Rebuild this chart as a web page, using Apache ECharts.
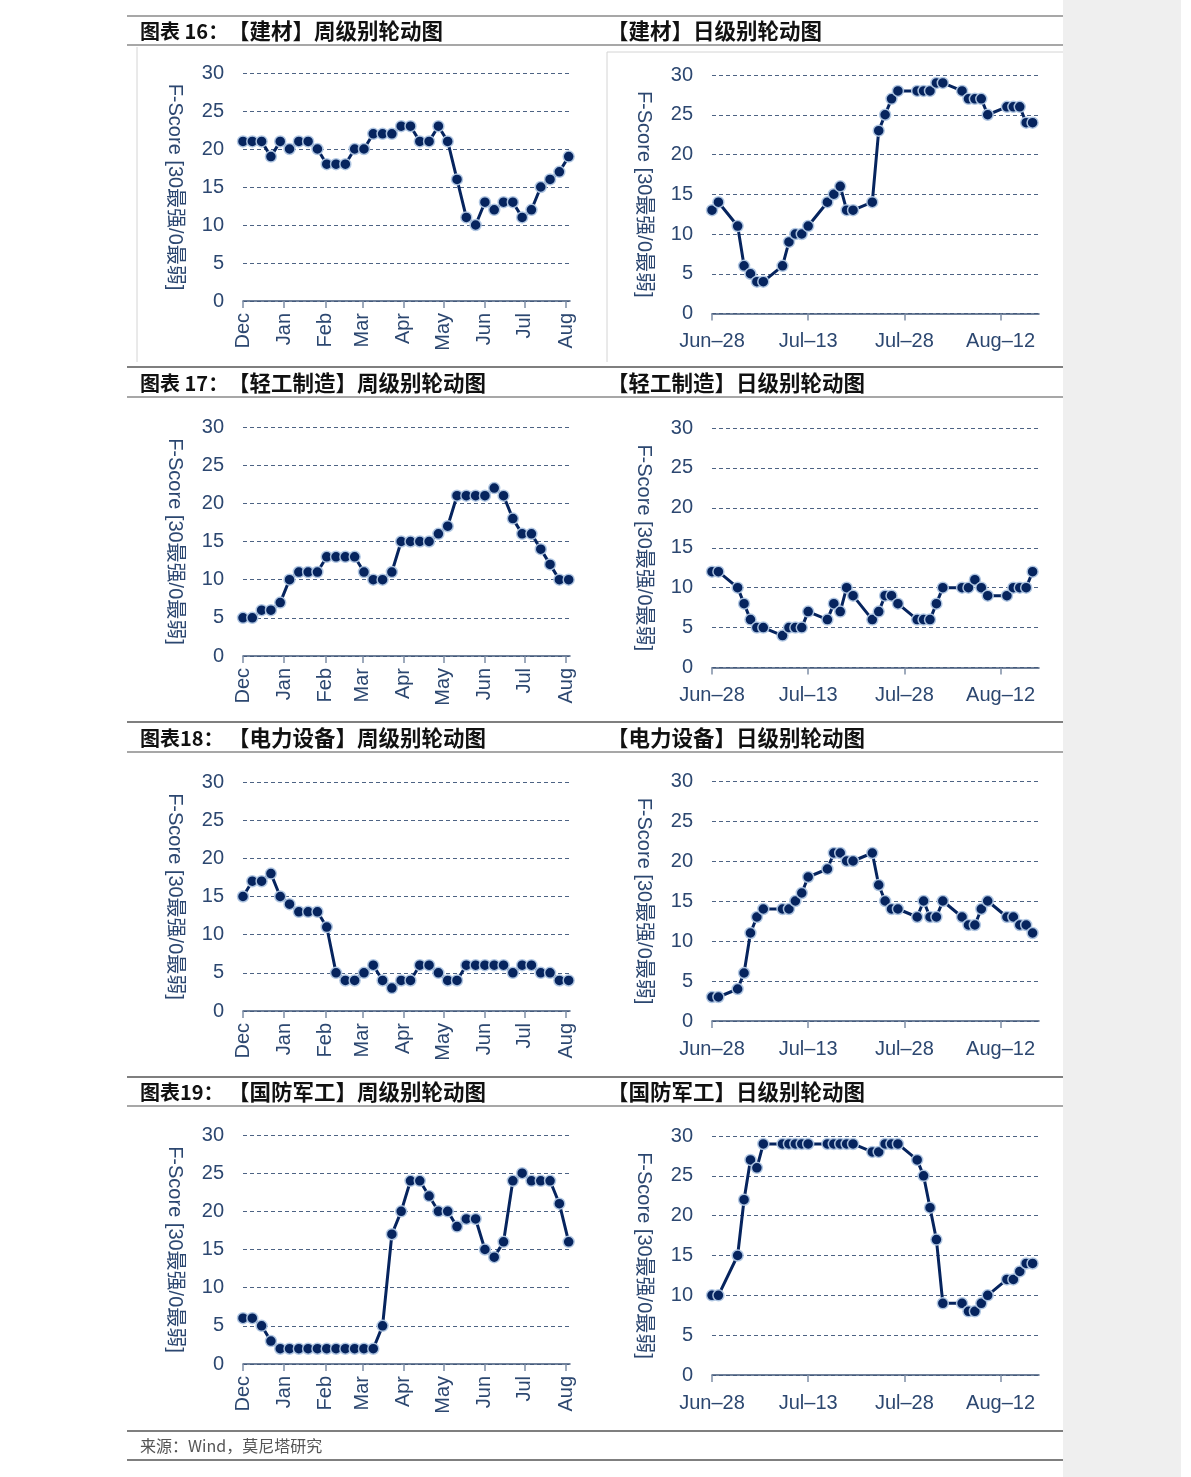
<!DOCTYPE html>
<html><head><meta charset="utf-8">
<script src="https://cdn.jsdelivr.net/npm/echarts@6/dist/echarts.min.js"></script>
<style>html,body{margin:0;padding:0;background:#fff;}#c{width:1191px;height:1477px;}</style>
</head><body><div id="c"></div>
<script>
// ---------- data ----------
const weeklyDates = ['2017-12-01','2017-12-08','2017-12-15','2017-12-22','2017-12-29',
  '2018-01-05','2018-01-12','2018-01-19','2018-01-26','2018-02-02','2018-02-09','2018-02-16','2018-02-23',
  '2018-03-02','2018-03-09','2018-03-16','2018-03-23','2018-03-30','2018-04-06','2018-04-13','2018-04-20','2018-04-27',
  '2018-05-04','2018-05-11','2018-05-18','2018-05-25','2018-06-01','2018-06-08','2018-06-15','2018-06-22','2018-06-29',
  '2018-07-06','2018-07-13','2018-07-20','2018-07-27','2018-08-03'];
const dailyDates = ['2018-06-28','2018-06-29','2018-07-02','2018-07-03','2018-07-04','2018-07-05','2018-07-06',
  '2018-07-09','2018-07-10','2018-07-11','2018-07-12','2018-07-13','2018-07-16','2018-07-17','2018-07-18','2018-07-19','2018-07-20',
  '2018-07-23','2018-07-24','2018-07-25','2018-07-26','2018-07-27','2018-07-30','2018-07-31','2018-08-01','2018-08-02','2018-08-03',
  '2018-08-06','2018-08-07','2018-08-08','2018-08-09','2018-08-10','2018-08-13','2018-08-14','2018-08-15','2018-08-16','2018-08-17'];
const weeklyTickDates = ['2017-12-01','2018-01-01','2018-02-01','2018-03-01','2018-04-01','2018-05-01','2018-06-01','2018-07-01','2018-08-01'];
const weeklyTickLabels = ['Dec','Jan','Feb','Mar','Apr','May','Jun','Jul','Aug'];
const weeklyRange = ['2017-12-01','2018-08-04'];
const dailyTickDates = ['2018-06-28','2018-07-13','2018-07-28','2018-08-12'];
const dailyTickLabels = ['Jun–28','Jul–13','Jul–28','Aug–12'];
const dailyRange = ['2018-06-28','2018-08-18'];

const jcWeekly = [21,21,21,19,21,20,21,21,20,18,18,18,20,20,22,22,22,23,23,21,21,23,21,16,11,10,13,12,13,13,11,12,15,16,17,19];
const jcDaily  = [13,14,11,6,5,4,4,6,9,10,10,11,14,15,16,13,13,14,23,25,27,28,28,28,28,29,29,28,27,27,27,25,26,26,26,24,24];
const qgWeekly = [5,5,6,6,7,10,11,11,11,13,13,13,13,11,10,10,11,15,15,15,15,16,17,21,21,21,21,22,21,18,16,16,14,12,10,10];
const qgDaily  = [12,12,10,8,6,5,5,4,5,5,5,7,6,8,7,10,9,6,7,9,9,8,6,6,6,8,10,10,10,11,10,9,9,10,10,10,12];
const dlWeekly = [15,17,17,18,15,14,13,13,13,11,5,4,4,5,6,4,3,4,4,6,6,5,4,4,6,6,6,6,6,5,6,6,5,5,4,4];
const dlDaily  = [3,3,4,6,11,13,14,14,14,15,16,18,19,21,21,20,20,21,17,15,14,14,13,15,13,13,15,13,12,12,14,15,13,13,12,12,11];
const gfWeekly = [6,6,5,3,2,2,2,2,2,2,2,2,2,2,2,5,17,20,24,24,22,20,20,18,19,19,15,14,16,24,25,24,24,24,21,16];
const gfDaily  = [10,10,15,22,27,26,29,29,29,29,29,29,29,29,29,29,29,28,28,29,29,29,27,25,21,17,9,9,8,8,9,10,12,12,13,14,14];

const figNums = ['图表 16：','图表 17：','图表18：','图表19：'];
const sectors = ['建材','轻工制造','电力设备','国防军工'];
const weeklySuffix = '周级别轮动图';
const dailySuffix = '日级别轮动图';
const yName = 'F-Score [30最强/0最弱]';
const sourceText = '来源：Wind，莫尼塔研究';

// ---------- helpers ----------
const ts = s => { const p = s.split('-'); return Date.UTC(+p[0], +p[1]-1, +p[2]); };
const NAVY = '#06245e';
const LABEL = '#2c4770';
const FONT = "'Liberation Sans Narrow','Liberation Sans','Noto Sans CJK SC',sans-serif";
const CJK = "'Noto Sans CJK SC',sans-serif";

const rowsLeft  = [[73,228],[427,229],[782,229],[1135,229]];
const rowsRight = [[75,238.5],[428,239.5],[781,240],[1136,239]];
const titleY = [31,383,738,1092];
const lineTop = [16,367,722,1077];
const lineBot = [45,397,752,1106];

const weeklySets = [jcWeekly,qgWeekly,dlWeekly,gfWeekly];
const dailySets = [jcDaily,qgDaily,dlDaily,gfDaily];

const grids=[], xAxes=[], yAxes=[], series=[], graphics=[];

function addPanel(kind, row, values){
  const idx = grids.length;
  const weekly = kind==='w';
  const r = weekly ? rowsLeft[row] : rowsRight[row];
  grids.push({left: weekly?243:712, width:327, top:r[0], height:r[1]});
  const tickDates = weekly?weeklyTickDates:dailyTickDates;
  const tickLabels = weekly?weeklyTickLabels:dailyTickLabels;
  const tickTs = tickDates.map(ts);
  const range = weekly?weeklyRange:dailyRange;
  xAxes.push({
    type:'value', gridIndex:idx, min:ts(range[0]), max:ts(range[1]),
    axisLine:{show:true, onZero:false, lineStyle:{color:'#41587a', width:1.5}},
    axisTick:{show:true, customValues:tickTs, length:7, lineStyle:{color:'#7f8ea6', width:1.5}},
    axisLabel:{show:true, customValues:tickTs, rotate: weekly?90:0, margin: weekly?12:18,
      fontSize:20, fontFamily:FONT, color:LABEL,
      formatter: v => { const i = tickTs.indexOf(v); return i>=0 ? tickLabels[i] : ''; }},
    splitLine:{show:false}
  });
  yAxes.push({
    type:'value', gridIndex:idx, min:0, max:30, interval:5,
    axisLine:{show:false}, axisTick:{show:false},
    axisLabel:{fontSize:20, fontFamily:FONT, color:LABEL, margin:19},
    splitLine:{show:true, lineStyle:{color:'#4d6384', type:[4,3], width:1}},
    name: yName, nameLocation:'middle', nameRotate:-90, nameGap:58,
    nameTextStyle:{fontSize:20, fontFamily:FONT, color:LABEL}
  });
  const dates = weekly?weeklyDates:dailyDates;
  series.push({
    type:'line', xAxisIndex:idx, yAxisIndex:idx,
    data: dates.map((d,i)=>[ts(d), values[i]]),
    lineStyle:{color:NAVY, width:3},
    symbol:'circle', symbolSize:11,
    itemStyle:{color:NAVY, borderColor:'rgba(178,200,228,0.95)', borderWidth:1.5},
    emphasis:{disabled:true}, animation:false, z:3
  });
}

for(let r=0;r<4;r++){
  addPanel('w', r, weeklySets[r]);
  addPanel('d', r, dailySets[r]);
  graphics.push({type:'line', shape:{x1:127,y1:lineTop[r],x2:1063,y2:lineTop[r]}, style:{stroke: r===0?'#8a8a8a':'#555', lineWidth:1.5}});
  graphics.push({type:'line', shape:{x1:127,y1:lineBot[r],x2:1063,y2:lineBot[r]}, style:{stroke:'#8a8a8a', lineWidth:1.5}});
  const base = {fill:'#111', fontWeight:'bold', fontFamily:CJK, textVerticalAlign:'middle'};
  graphics.push({type:'text', x:140, y:titleY[r], style:Object.assign({text:figNums[r], fontSize:20}, base)});
  graphics.push({type:'text', x:228, y:titleY[r], style:Object.assign({text:'【'+sectors[r]+'】'+weeklySuffix, fontSize:21.5}, base)});
  graphics.push({type:'text', x:607, y:titleY[r], style:Object.assign({text:'【'+sectors[r]+'】'+dailySuffix, fontSize:21.5}, base)});
}
// row-1 chart frames
graphics.push({type:'line', shape:{x1:137,y1:47,x2:137,y2:362}, style:{stroke:'#d4d4d4', lineWidth:1}});
graphics.push({type:'polyline', shape:{points:[[607,362],[607,52],[1063,52]]}, style:{stroke:'#d4d4d4', lineWidth:1, fill:null}});
// right gray band
graphics.push({type:'rect', shape:{x:1063,y:0,width:118,height:1477}, style:{fill:'#efefef'}, z:-10});
// footer
graphics.push({type:'line', shape:{x1:127,y1:1431,x2:1063,y2:1431}, style:{stroke:'#555', lineWidth:1.5}});
graphics.push({type:'line', shape:{x1:127,y1:1460,x2:1063,y2:1460}, style:{stroke:'#555', lineWidth:1.5}});
graphics.push({type:'text', x:140, y:1446, style:{text:sourceText, fill:'#555', fontSize:16, fontFamily:CJK, textVerticalAlign:'middle'}});

const chart = echarts.init(document.getElementById('c'), null, {renderer:'canvas'});
chart.setOption({
  animation:false, backgroundColor:'#fff',
  grid:grids, xAxis:xAxes, yAxis:yAxes, series:series, graphic:graphics
});
</script></body></html>
